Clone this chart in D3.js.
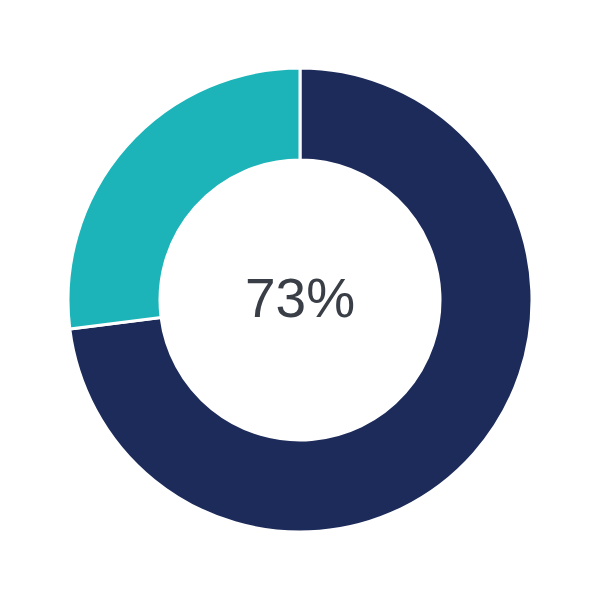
<!DOCTYPE html>
<html>
<head>
<meta charset="utf-8">
<script src="https://cdn.jsdelivr.net/npm/d3@7"></script>
<style>
  html, body { margin: 0; padding: 0; background: #fff; }
</style>
</head>
<body>
<div id="vis"></div>
<script>
// chart data
var labels = ['Yes', 'No'];
var values = [73, 27];
var colors = ['#1c2b5a', '#1cb4b8'];
var centerLabel = '73%';

var width = 600;
var height = 600;
var outerRadius = 232;
var innerRadius = 140;

var svg = d3.select('#vis').append('svg')
  .attr('width', width)
  .attr('height', height);

var g = svg.append('g')
  .attr('transform', 'translate(' + (width / 2) + ',' + (height / 2) + ')');

var pie = d3.pie().sort(null).value(function (d) { return d; });
var arc = d3.arc().innerRadius(innerRadius).outerRadius(outerRadius);

g.selectAll('path')
  .data(pie(values))
  .enter().append('path')
  .attr('d', arc)
  .attr('fill', function (d, i) { return colors[i]; })
  .attr('stroke', '#fff')
  .attr('stroke-width', 3)
  .append('title')
  .text(function (d, i) { return labels[i] + ': ' + d.data + '%'; });

g.append('text')
  .attr('text-anchor', 'middle')
  .attr('y', 17)
  .attr('font-family', 'Arial, "Liberation Sans", sans-serif')
  .attr('font-size', 55)
  .attr('fill', '#3a3f47')
  .text(centerLabel);
</script>
</body>
</html>
